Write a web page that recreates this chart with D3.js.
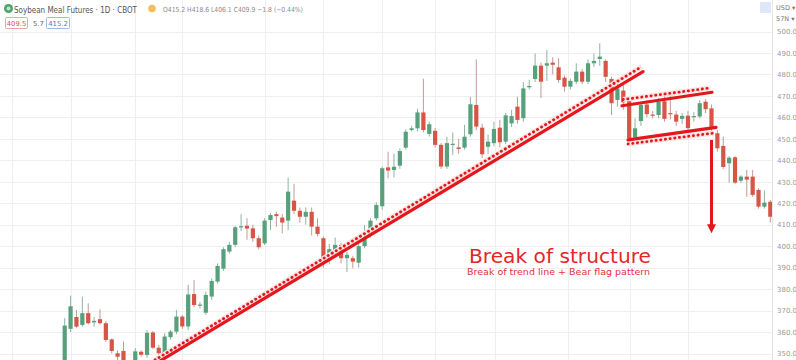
<!DOCTYPE html>
<html><head><meta charset="utf-8">
<script src="https://cdnjs.cloudflare.com/ajax/libs/d3/7.8.5/d3.min.js"></script>
<style>body{margin:0;background:#fff;} svg{display:block;font-family:"DejaVu Sans",sans-serif;}</style>
</head><body><svg id="c" width="796" height="360"></svg>
<script>
// ---- data (daily candles) ----
const open  = [344,361.5,367,363.3,368.8,364.5,366,364.1,356.6,350.1,351.2,345,345.5,350.8,349.3,359.8,352.7,350,357.6,360.2,
  367.2,362.6,377.7,372.3,369,376.5,383.5,389.5,397.5,400.6,409,409.5,408.3,403.7,401.3,412.2,414.9,413.3,411.9,421.2,
  416.5,413.7,416,409.1,403.7,393.5,398.2,400.6,394.4,394.4,392.3,400,405.2,413,418.6,436.7,435.5,437.5,445.9,454.1,
  454.9,462.3,452.3,453.7,447.2,437.1,447.3,446,445.9,452.1,465.8,455.2,446.3,448,455.2,448.7,457.2,465,459.6,474,
  477.9,484.1,484.1,485.5,483.3,478.5,474.3,476.6,481.3,476.6,485.2,487.2,486.3,477.9,468.1,472.5,468.1,450.7,458.3,466,
  461.3,461.1,467.5,462,461.3,459.3,460.8,460.3,460.4,467.3,464.2,452.6,446.7,438.6,441.4,430.5,432.4,432.4,426.2,418.4,420.7];
const high  = [366.5,377,370.3,376.5,373.4,367,370.6,365,357,351.5,355.5,346.3,352.5,351.5,361,360.5,354,359.4,361,370.3,
  368,382,384.3,374,378.8,385,392,399.5,402,409.5,415,413,410,405,413,415.5,416,415,432,429,
  418,418,418,413,404.5,401,404,401.5,397.4,395.5,401,409.9,413,420.5,437,444,443,445.5,454.5,456,
  464,478,458,455,448,451,453,450,456.5,469.6,487,457,452,458,458.8,462,463.5,469.6,476.5,477.5,
  489.8,485.5,491.4,488,487.6,479.5,478,485.2,482.5,487,489.8,494.5,487,479,477.4,476,470,459.6,467,468,
  463,469,471.2,470,463,462,463,462.5,468,468.5,466,454,451,442,442,433,435.5,435.5,427,426,421.5];
const low   = [342,360,362,362.5,363.5,362.5,363.5,355.5,350,347,344,342,344,348.5,348,352,347.5,349,356.5,359,
  361.5,361,371.5,371,368,375,382.5,388.5,396.5,399.5,407,403,402,398.5,400.5,407.5,409,406,407.5,415,
  411,410,405,404.5,390,391.5,396,392,388,389.7,390,399,404,412,417,431.6,432,436,445,453.5,
  453.5,453,451,446,436,436,442.5,443,445,451,454,441,443,446.5,446,447.5,455.5,457,458,473,
  476.5,469,477,480,476,472,473,475.5,475.5,475.5,483.5,484,476.5,461,465,463.5,449.5,449.5,456,460,
  459.5,459.5,458,459,456,457,454,458,459.5,462,453,444,436,429.6,429,429.5,423,423,417.5,417.5,411];
const close = [363,372,362.5,368.8,364.1,365.2,364.1,356.3,351.2,348.5,345.5,344.5,351,349.4,359.6,352.7,350.1,357.9,360.2,367.2,
  362.6,377.5,372.6,372.8,377.3,383.8,390.8,398.6,400.6,408.8,409.3,408.2,403.7,399.5,411.9,414.5,414,411,425.4,416.5,
  413.7,416,409.1,405.7,392.5,398.6,400.6,394.4,396,392.8,400,405.2,411.9,419.2,436.3,435.2,437,444.3,453.3,454.9,
  462.3,454.1,456.8,447.2,437.1,448,447.7,445.3,451,466.1,455.7,442.8,448.7,454.6,448.4,460.9,460.6,458.8,473.5,474.6,
  484.1,476.6,485.2,484.5,477.4,474.3,477,481.3,476.6,485.2,486.3,488.3,478.9,466.6,473.5,467,450.3,454.9,465.8,461.5,
  461,467.3,459.3,461.5,458,460.7,455,460.6,466.6,463.8,454.9,445.6,436.9,441.2,429.6,432.4,431,423.9,418.4,420.3,413.7];
const days = d3.range(1, open.length + 1);               // candle index (trading days)
const priceTicks = [350,360,370,380,390,400,410,420,430,440,450,460,470,480,490,500];
const timeGrid = [-8, 2, 13, 21, 35, 45, 55, 64, 74.2, 86.6, 97.1, 107];

// annotation geometry in (day index, price)
const trendLine      = [[17.2, 346.5], [99.35, 481.3]];
const trendDots      = [[16.35, 347.0], [99.13, 483.6]];
const flagTop        = [[95.78, 465.4], [111.09, 471.7]];
const flagTopDots    = [[95.95, 468.3], [110.75, 473.7]];
const flagBottom     = [[96.8, 449.5], [111.77, 455.3]];
const flagBottomDots = [[96.8, 447.6], [111.4, 452.7]];
const breakArrow     = [[111.0, 449.5], [111.0, 406.0]];

// ---- layout ----
const W = 796, H = 360, plotRight = 772;
const svg = d3.select('#c');
const x = d3.scaleLinear().domain([1, 121]).range([64.7, 770.3]);
const y = d3.scaleLinear().domain([350, 500]).range([353.5, 31.5]);

svg.append('defs').append('clipPath').attr('id','plot')
  .append('rect').attr('x',0).attr('y',0).attr('width',plotRight).attr('height',H);

// grid
const grid = svg.append('g');
grid.selectAll('line.h').data(priceTicks).join('line')
  .attr('x1',0).attr('x2',plotRight).attr('y1',d=>Math.round(y(d))+0.5).attr('y2',d=>Math.round(y(d))+0.5)
  .attr('stroke','#efefef').attr('stroke-width',1);
grid.selectAll('line.v').data(timeGrid).join('line')
  .attr('x1',d=>Math.round(x(d))+0.5).attr('x2',d=>Math.round(x(d))+0.5).attr('y1',0).attr('y2',H)
  .attr('stroke','#efefef').attr('stroke-width',1);
svg.append('line').attr('x1',plotRight+0.5).attr('x2',plotRight+0.5).attr('y1',0).attr('y2',H)
  .attr('stroke','#e4e4e4');

// y axis (right)
const yAxis = d3.axisRight(y).tickValues(priceTicks).tickFormat(d3.format('.1f')).tickSize(0).tickPadding(0);
const ax = svg.append('g').attr('transform',`translate(${plotRight+5},0)`).call(yAxis);
ax.select('.domain').remove();
ax.selectAll('text').attr('fill','#999').style('font-size','7px').style('font-family','"DejaVu Sans",sans-serif');

// candles
const upC = '#56a07c', dnC = '#d85545';
const pg = svg.append('g').attr('clip-path','url(#plot)');
const isUp = i => close[i-1] >= open[i-1];
pg.selectAll('line.wick').data(days).join('line')
  .attr('x1',i=>x(i)).attr('x2',i=>x(i))
  .attr('y1',i=>y(high[i-1])).attr('y2',i=>y(low[i-1]))
  .attr('stroke',i=>isUp(i)?'#8fb3a0':'#c49893').attr('stroke-width',1);
const bw = 4.2;
pg.selectAll('rect.body').data(days).join('rect')
  .attr('x',i=>x(i)-bw/2).attr('width',bw)
  .attr('y',i=>y(Math.max(open[i-1],close[i-1])))
  .attr('height',i=>Math.max(1.2, Math.abs(y(open[i-1])-y(close[i-1]))))
  .attr('fill',i=>isUp(i)?upC:dnC);

// annotations
const line = d3.line().x(d=>x(d[0])).y(d=>y(d[1]));
const red = '#e3171c';
function dotted(pts){
  pg.append('path').attr('d',line(pts)).attr('fill','none').attr('stroke','#fbe2e2').attr('stroke-width',5);
  pg.append('path').attr('d',line(pts)).attr('fill','none').attr('stroke',red).attr('stroke-width',2.8)
    .attr('stroke-linecap','round').attr('stroke-dasharray','0.3,4.4');
}
function solid(pts){
  pg.append('path').attr('d',line(pts)).attr('fill','none').attr('stroke',red).attr('stroke-width',3.2)
    .attr('stroke-linecap','round');
}
dotted(trendDots); solid(trendLine);
dotted(flagTopDots); solid(flagTop);
dotted(flagBottomDots); solid(flagBottom);
// arrow
const ax0 = x(breakArrow[0][0]), ay0 = y(breakArrow[0][1]), ay1 = y(breakArrow[1][1]);
pg.append('line').attr('x1',ax0).attr('x2',ax0).attr('y1',ay0).attr('y2',ay1-7)
  .attr('stroke',red).attr('stroke-width',3);
pg.append('path').attr('d',`M${ax0-4.5},${ay1-9} L${ax0+4.5},${ay1-9} L${ax0},${ay1} Z`).attr('fill',red);

// annotation text
svg.append('text').attr('x',469).attr('y',262.5).text('Break of structure')
  .attr('fill','#e4262b').style('font-size','19.5px').attr('textLength',182).attr('lengthAdjust','spacingAndGlyphs');
svg.append('text').attr('x',467).attr('y',275).text('Break of trend line + Bear flag pattern')
  .attr('fill','#e0343a').style('font-size','8.6px').attr('textLength',183).attr('lengthAdjust','spacingAndGlyphs');

// header
const hd = svg.append('g');
hd.append('circle').attr('cx',8.5).attr('cy',8.5).attr('r',4.5).attr('fill','#4aa56a');
hd.append('circle').attr('cx',8.5).attr('cy',8.5).attr('r',2).attr('fill','#bfe3c9');
hd.append('text').attr('x',14).attr('y',12.5).text('Soybean Meal Futures · 1D · CBOT')
  .attr('fill','#555').style('font-size','9px').attr('textLength',123).attr('lengthAdjust','spacingAndGlyphs');
hd.append('circle').attr('cx',152).attr('cy',8.5).attr('r',3.8).attr('fill','#f6bd5c');
hd.append('text').attr('x',163).attr('y',12).text('O415.2 H418.6 L406.1 C409.9 −1.8 (−0.44%)')
  .attr('fill','#8a8a8a').style('font-size','7px').attr('textLength',140).attr('lengthAdjust','spacingAndGlyphs');
hd.append('rect').attr('x',5.5).attr('y',17.5).attr('width',22).attr('height',11).attr('fill','#fff')
  .attr('stroke','#eba5a5').attr('rx',1);
hd.append('text').attr('x',16.5).attr('y',25.5).attr('text-anchor','middle').text('409.5')
  .attr('fill','#d9534f').style('font-size','6.8px');
hd.append('text').attr('x',33).attr('y',25.5).text('5.7').attr('fill','#666').style('font-size','6.8px');
hd.append('rect').attr('x',46.5).attr('y',17.5).attr('width',23).attr('height',11).attr('fill','#fff')
  .attr('stroke','#9db8e3').attr('rx',1);
hd.append('text').attr('x',58).attr('y',25.5).attr('text-anchor','middle').text('415.2')
  .attr('fill','#4a7fc9').style('font-size','6.8px');

// top-right
svg.append('rect').attr('x',760).attr('y',2).attr('width',11).attr('height',11).attr('fill','#dde7f8').attr('rx',1);
svg.append('text').attr('x',776).attr('y',10).text('USD ▾').attr('fill','#777').style('font-size','6.5px');
svg.append('text').attr('x',776).attr('y',21).text('57N ▾').attr('fill','#777').style('font-size','6.5px');
</script></body></html>
